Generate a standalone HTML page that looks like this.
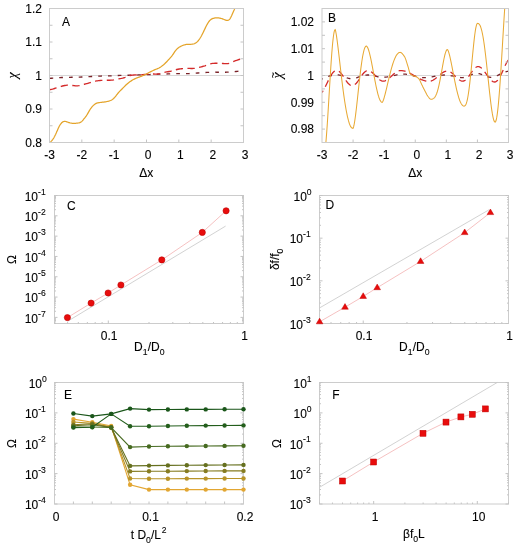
<!DOCTYPE html>
<html><head><meta charset="utf-8"><style>
html,body{margin:0;padding:0;background:#fff;width:517px;height:550px;overflow:hidden}
svg{display:block;filter:blur(0.3px)}
text{font-family:"Liberation Sans", sans-serif;fill:#000;stroke:#000;stroke-width:0.1px}
</style></head><body>
<svg width="517" height="550" viewBox="0 0 517 550">
<rect width="517" height="550" fill="#fff"/>
<line x1="49.5" y1="75.50" x2="243.5" y2="75.50" stroke="#d8d8d8" stroke-width="1"/>
<clipPath id="cA"><rect x="49.5" y="8.5" width="194.0" height="134.0"/></clipPath>
<g clip-path="url(#cA)">
<path d="M49.50,78.40 L51.25,78.22 L53.00,78.06 L54.75,77.92 L56.50,77.80 L58.25,77.69 L60.00,77.60 L61.67,77.53 L63.33,77.47 L65.00,77.41 L66.67,77.37 L68.33,77.33 L70.00,77.30 L71.67,77.27 L73.33,77.25 L75.00,77.22 L76.67,77.19 L78.33,77.15 L80.00,77.10 L81.67,77.04 L83.33,76.97 L85.00,76.89 L86.67,76.80 L88.33,76.70 L90.00,76.60 L91.50,76.50 L93.00,76.41 L94.50,76.32 L96.00,76.23 L97.50,76.16 L99.00,76.10 L100.83,76.05 L102.67,76.02 L104.50,76.00 L106.33,75.98 L108.17,75.95 L110.00,75.90 L111.67,75.83 L113.33,75.75 L115.00,75.66 L116.67,75.56 L118.33,75.47 L120.00,75.40 L121.67,75.34 L123.33,75.31 L125.00,75.28 L126.67,75.25 L128.33,75.23 L130.00,75.20 L131.67,75.16 L133.33,75.11 L135.00,75.06 L136.67,75.01 L138.33,74.95 L140.00,74.90 L141.08,74.87 L142.17,74.84 L143.25,74.81 L144.33,74.78 L145.42,74.74 L146.50,74.70 L147.92,74.64 L149.33,74.57 L150.75,74.50 L152.17,74.43 L153.58,74.36 L155.00,74.30 L156.83,74.24 L158.67,74.19 L160.50,74.14 L162.33,74.10 L164.17,74.05 L166.00,74.00 L168.00,73.93 L170.00,73.84 L172.00,73.76 L174.00,73.69 L176.00,73.63 L178.00,73.60 L179.67,73.60 L181.33,73.61 L183.00,73.63 L184.67,73.64 L186.33,73.63 L188.00,73.60 L189.33,73.55 L190.67,73.48 L192.00,73.40 L193.33,73.30 L194.67,73.20 L196.00,73.10 L197.83,72.96 L199.67,72.83 L201.50,72.71 L203.33,72.59 L205.17,72.49 L207.00,72.40 L208.67,72.33 L210.33,72.28 L212.00,72.24 L213.67,72.21 L215.33,72.20 L217.00,72.20 L218.67,72.21 L220.33,72.23 L222.00,72.25 L223.67,72.26 L225.33,72.24 L227.00,72.20 L228.50,72.13 L230.00,72.04 L231.50,71.92 L233.00,71.79 L234.50,71.65 L236.00,71.50 L237.25,71.37 L238.50,71.25 L239.75,71.12 L241.00,71.01 L242.25,70.90 L243.50,70.80" stroke="#7a2228" stroke-width="1.35" fill="none" stroke-dasharray="3.7 6.057"/>
<path d="M49.50,89.70 L50.50,89.53 L51.50,89.32 L52.50,89.08 L53.50,88.80 L54.50,88.51 L55.50,88.20 L56.27,87.95 L57.03,87.70 L57.80,87.45 L58.57,87.20 L59.33,86.95 L60.10,86.70 L61.27,86.34 L62.43,86.01 L63.60,85.72 L64.77,85.48 L65.93,85.31 L67.10,85.20 L67.85,85.17 L68.60,85.18 L69.35,85.21 L70.10,85.26 L70.85,85.32 L71.60,85.40 L72.78,85.53 L73.97,85.66 L75.15,85.76 L76.33,85.82 L77.52,85.80 L78.70,85.70 L79.45,85.58 L80.20,85.42 L80.95,85.24 L81.70,85.03 L82.45,84.82 L83.20,84.60 L84.38,84.26 L85.57,83.93 L86.75,83.61 L87.93,83.28 L89.12,82.95 L90.30,82.60 L91.05,82.37 L91.80,82.14 L92.55,81.92 L93.30,81.70 L94.05,81.49 L94.80,81.30 L95.67,81.11 L96.53,80.94 L97.40,80.80 L98.27,80.68 L99.13,80.58 L100.00,80.50 L101.00,80.43 L102.00,80.38 L103.00,80.34 L104.00,80.32 L105.00,80.31 L106.00,80.30 L107.27,80.29 L108.53,80.28 L109.80,80.24 L111.07,80.18 L112.33,80.07 L113.60,79.90 L114.27,79.79 L114.93,79.66 L115.60,79.52 L116.27,79.38 L116.93,79.24 L117.60,79.10 L118.87,78.85 L120.13,78.61 L121.40,78.36 L122.67,78.07 L123.93,77.73 L125.20,77.30 L125.78,77.07 L126.37,76.83 L126.95,76.59 L127.53,76.34 L128.12,76.11 L128.70,75.90 L129.95,75.53 L131.20,75.27 L132.45,75.09 L133.70,74.99 L134.95,74.93 L136.20,74.90 L136.88,74.89 L137.57,74.88 L138.25,74.87 L138.93,74.85 L139.62,74.83 L140.30,74.80 L141.63,74.71 L142.97,74.60 L144.30,74.46 L145.63,74.33 L146.97,74.20 L148.30,74.10 L149.00,74.06 L149.70,74.03 L150.40,74.01 L151.10,73.99 L151.80,73.99 L152.50,74.00 L153.77,74.03 L155.03,74.07 L156.30,74.08 L157.57,74.04 L158.83,73.93 L160.10,73.70 L160.77,73.53 L161.43,73.34 L162.10,73.13 L162.77,72.91 L163.43,72.70 L164.10,72.50 L165.37,72.19 L166.63,71.94 L167.90,71.73 L169.17,71.52 L170.43,71.29 L171.70,71.00 L172.37,70.82 L173.03,70.62 L173.70,70.41 L174.37,70.20 L175.03,70.00 L175.70,69.80 L176.87,69.50 L178.03,69.24 L179.20,69.03 L180.37,68.85 L181.53,68.71 L182.70,68.60 L183.47,68.54 L184.23,68.49 L185.00,68.45 L185.77,68.42 L186.53,68.40 L187.30,68.40 L188.55,68.42 L189.80,68.45 L191.05,68.48 L192.30,68.48 L193.55,68.43 L194.80,68.30 L195.50,68.19 L196.20,68.06 L196.90,67.91 L197.60,67.74 L198.30,67.57 L199.00,67.40 L200.18,67.11 L201.37,66.82 L202.55,66.51 L203.73,66.18 L204.92,65.82 L206.10,65.40 L206.77,65.14 L207.43,64.87 L208.10,64.61 L208.77,64.35 L209.43,64.11 L210.10,63.90 L211.35,63.60 L212.60,63.42 L213.85,63.32 L215.10,63.28 L216.35,63.28 L217.60,63.30 L218.28,63.31 L218.97,63.31 L219.65,63.32 L220.33,63.34 L221.02,63.36 L221.70,63.40 L222.95,63.50 L224.20,63.61 L225.45,63.68 L226.70,63.68 L227.95,63.57 L229.20,63.30 L229.87,63.08 L230.53,62.82 L231.20,62.53 L231.87,62.22 L232.53,61.90 L233.20,61.60 L234.38,61.11 L235.57,60.67 L236.75,60.27 L237.93,59.88 L239.12,59.50 L240.30,59.10 L240.83,58.91 L241.37,58.71 L241.90,58.50 L242.43,58.28 L242.97,58.05 L243.50,57.80" stroke="#d42a2a" stroke-width="1.35" fill="none" stroke-dasharray="7.3 4.42"/>
<path d="M49.60,142.80 L50.10,142.38 L50.60,141.92 L51.10,141.41 L51.60,140.86 L52.10,140.26 L52.60,139.60 L53.12,138.86 L53.63,138.07 L54.15,137.20 L54.67,136.27 L55.18,135.27 L55.70,134.20 L56.22,133.06 L56.73,131.87 L57.25,130.66 L57.77,129.46 L58.28,128.30 L58.80,127.20 L59.25,126.32 L59.70,125.51 L60.15,124.77 L60.60,124.11 L61.05,123.52 L61.50,123.00 L61.95,122.56 L62.40,122.19 L62.85,121.89 L63.30,121.66 L63.75,121.50 L64.20,121.40 L64.72,121.37 L65.23,121.41 L65.75,121.50 L66.27,121.64 L66.78,121.81 L67.30,122.00 L67.82,122.19 L68.33,122.38 L68.85,122.56 L69.37,122.72 L69.88,122.87 L70.40,123.00 L71.05,123.12 L71.70,123.21 L72.35,123.27 L73.00,123.30 L73.65,123.31 L74.30,123.30 L74.95,123.28 L75.60,123.26 L76.25,123.22 L76.90,123.16 L77.55,123.09 L78.20,123.00 L78.72,122.91 L79.23,122.80 L79.75,122.64 L80.27,122.43 L80.78,122.16 L81.30,121.80 L81.82,121.35 L82.33,120.83 L82.85,120.24 L83.37,119.62 L83.88,118.96 L84.40,118.30 L84.78,117.81 L85.17,117.32 L85.55,116.82 L85.93,116.30 L86.32,115.77 L86.70,115.20 L87.27,114.30 L87.83,113.35 L88.40,112.37 L88.97,111.38 L89.53,110.42 L90.10,109.50 L90.62,108.72 L91.13,108.00 L91.65,107.32 L92.17,106.70 L92.68,106.13 L93.20,105.60 L93.70,105.13 L94.20,104.70 L94.70,104.31 L95.20,103.96 L95.70,103.66 L96.20,103.40 L96.85,103.13 L97.50,102.93 L98.15,102.78 L98.80,102.66 L99.45,102.58 L100.10,102.50 L100.88,102.41 L101.67,102.32 L102.45,102.22 L103.23,102.12 L104.02,102.01 L104.80,101.90 L105.57,101.78 L106.33,101.65 L107.10,101.50 L107.87,101.32 L108.63,101.13 L109.40,100.90 L109.92,100.73 L110.43,100.53 L110.95,100.31 L111.47,100.05 L111.98,99.75 L112.50,99.40 L113.02,99.00 L113.53,98.54 L114.05,98.04 L114.57,97.50 L115.08,96.92 L115.60,96.30 L116.12,95.66 L116.63,94.99 L117.15,94.33 L117.67,93.66 L118.18,93.02 L118.70,92.40 L119.17,91.87 L119.63,91.37 L120.10,90.89 L120.57,90.42 L121.03,89.96 L121.50,89.50 L122.28,88.71 L123.07,87.91 L123.85,87.11 L124.63,86.32 L125.42,85.55 L126.20,84.80 L127.10,83.98 L128.00,83.21 L128.90,82.49 L129.80,81.81 L130.70,81.18 L131.60,80.60 L132.50,80.06 L133.40,79.56 L134.30,79.10 L135.20,78.67 L136.10,78.27 L137.00,77.90 L138.03,77.50 L139.07,77.11 L140.10,76.72 L141.13,76.34 L142.17,75.93 L143.20,75.50 L144.10,75.09 L145.00,74.66 L145.90,74.22 L146.80,73.75 L147.70,73.28 L148.60,72.80 L149.50,72.32 L150.40,71.85 L151.30,71.39 L152.20,70.94 L153.10,70.51 L154.00,70.10 L155.00,69.68 L156.00,69.27 L157.00,68.86 L158.00,68.42 L159.00,67.94 L160.00,67.40 L160.65,67.00 L161.30,66.57 L161.95,66.11 L162.60,65.60 L163.25,65.07 L163.90,64.50 L164.67,63.79 L165.43,63.03 L166.20,62.25 L166.97,61.45 L167.73,60.63 L168.50,59.80 L169.15,59.10 L169.80,58.39 L170.45,57.65 L171.10,56.88 L171.75,56.07 L172.40,55.20 L173.03,54.29 L173.67,53.35 L174.30,52.40 L174.93,51.47 L175.57,50.60 L176.20,49.80 L176.85,49.09 L177.50,48.47 L178.15,47.94 L178.80,47.48 L179.45,47.07 L180.10,46.70 L180.75,46.35 L181.40,46.03 L182.05,45.73 L182.70,45.46 L183.35,45.21 L184.00,45.00 L184.77,44.79 L185.53,44.62 L186.30,44.49 L187.07,44.40 L187.83,44.33 L188.60,44.30 L189.38,44.29 L190.17,44.29 L190.95,44.28 L191.73,44.24 L192.52,44.15 L193.30,44.00 L193.98,43.80 L194.67,43.52 L195.35,43.17 L196.03,42.74 L196.72,42.22 L197.40,41.60 L198.02,40.96 L198.63,40.23 L199.25,39.42 L199.87,38.53 L200.48,37.55 L201.10,36.50 L201.62,35.56 L202.13,34.56 L202.65,33.53 L203.17,32.47 L203.68,31.39 L204.20,30.30 L204.72,29.21 L205.23,28.13 L205.75,27.06 L206.27,26.03 L206.78,25.04 L207.30,24.10 L207.82,23.22 L208.33,22.41 L208.85,21.66 L209.37,21.00 L209.88,20.41 L210.40,19.90 L210.92,19.48 L211.43,19.13 L211.95,18.85 L212.47,18.63 L212.98,18.45 L213.50,18.30 L214.27,18.12 L215.03,17.99 L215.80,17.91 L216.57,17.86 L217.33,17.86 L218.10,17.90 L218.75,17.96 L219.40,18.05 L220.05,18.17 L220.70,18.32 L221.35,18.49 L222.00,18.70 L222.52,18.88 L223.03,19.08 L223.55,19.29 L224.07,19.49 L224.58,19.70 L225.10,19.90 L225.48,20.04 L225.87,20.16 L226.25,20.27 L226.63,20.35 L227.02,20.39 L227.40,20.40 L227.78,20.36 L228.17,20.26 L228.55,20.10 L228.93,19.85 L229.32,19.53 L229.70,19.10 L230.08,18.57 L230.47,17.95 L230.85,17.25 L231.23,16.48 L231.62,15.66 L232.00,14.80 L232.33,14.03 L232.67,13.25 L233.00,12.47 L233.33,11.70 L233.67,10.94 L234.00,10.20 L234.13,9.91 L234.27,9.62 L234.40,9.33 L234.53,9.01 L234.67,8.67 L234.80,8.30 L234.93,7.89 L235.07,7.43 L235.20,6.92 L235.33,6.35 L235.47,5.71 L235.60,5.00" stroke="#e4a42a" stroke-width="1.25" fill="none"/>
</g>
<rect x="49.5" y="8.5" width="194.0" height="134.0" fill="none" stroke="#cccccc" stroke-width="1"/>
<path d="M49.5,125.75h3M243.5,125.75h-3M49.5,109.00h3M243.5,109.00h-3M49.5,92.25h3M243.5,92.25h-3M49.5,75.50h3M243.5,75.50h-3M49.5,58.75h3M243.5,58.75h-3M49.5,42.00h3M243.5,42.00h-3M49.5,25.25h3M243.5,25.25h-3" stroke="#c4c4c4" stroke-width="1" fill="none"/>
<path d="M81.83,142.5v-3M114.17,142.5v-3M146.50,142.5v-3M178.83,142.5v-3M211.17,142.5v-3" stroke="#c4c4c4" stroke-width="1" fill="none"/>
<text x="42" y="12.8" text-anchor="end" font-size="12" >1.2</text>
<text x="42" y="46.299999999999955" text-anchor="end" font-size="12" >1.1</text>
<text x="42" y="79.79999999999998" text-anchor="end" font-size="12" >1</text>
<text x="42" y="113.29999999999997" text-anchor="end" font-size="12" >0.9</text>
<text x="42" y="146.79999999999998" text-anchor="end" font-size="12" >0.8</text>
<text x="49.5" y="158.6" text-anchor="middle" font-size="12" >-3</text>
<text x="81.83333333333333" y="158.6" text-anchor="middle" font-size="12" >-2</text>
<text x="114.16666666666666" y="158.6" text-anchor="middle" font-size="12" >-1</text>
<text x="148.1" y="158.6" text-anchor="middle" font-size="12" >0</text>
<text x="180.4333333333333" y="158.6" text-anchor="middle" font-size="12" >1</text>
<text x="212.76666666666668" y="158.6" text-anchor="middle" font-size="12" >2</text>
<text x="245.1" y="158.6" text-anchor="middle" font-size="12" >3</text>
<text x="146.3" y="177" text-anchor="middle" font-size="12" >Δx</text>
<text x="62" y="25.5" text-anchor="start" font-size="12" >A</text>
<text transform="translate(17,75.5) rotate(-90)" text-anchor="middle" font-size="14" font-family="Liberation Serif" font-style="italic" style="font-family:Liberation Serif">χ</text>
<line x1="322.0" y1="75.50" x2="508.5" y2="75.50" stroke="#d8d8d8" stroke-width="1"/>
<clipPath id="cB"><rect x="322.0" y="8.5" width="186.5" height="134.0"/></clipPath>
<g clip-path="url(#cB)">
<path d="M310.00,82.00 L311.42,81.95 L312.84,81.80 L314.26,81.57 L315.68,81.24 L317.11,80.84 L318.53,80.37 L319.95,79.85 L321.37,79.28 L322.79,78.70 L324.21,78.10 L325.63,77.52 L327.05,76.95 L328.47,76.43 L329.89,75.96 L331.32,75.56 L332.74,75.23 L334.16,75.00 L335.58,74.85 L337.00,74.80 L337.74,74.83 L338.47,74.90 L339.21,75.03 L339.95,75.20 L340.68,75.41 L341.42,75.66 L342.16,75.94 L342.89,76.23 L343.63,76.54 L344.37,76.86 L345.11,77.17 L345.84,77.46 L346.58,77.74 L347.32,77.99 L348.05,78.20 L348.79,78.37 L349.53,78.50 L350.26,78.57 L351.00,78.60 L351.89,78.58 L352.79,78.50 L353.68,78.38 L354.58,78.22 L355.47,78.02 L356.37,77.78 L357.26,77.52 L358.16,77.24 L359.05,76.95 L359.95,76.65 L360.84,76.36 L361.74,76.08 L362.63,75.82 L363.53,75.58 L364.42,75.38 L365.32,75.22 L366.21,75.10 L367.11,75.02 L368.00,75.00 L368.77,75.02 L369.54,75.06 L370.31,75.14 L371.07,75.24 L371.84,75.37 L372.61,75.52 L373.38,75.69 L374.15,75.87 L374.92,76.06 L375.68,76.24 L376.45,76.43 L377.22,76.61 L377.99,76.78 L378.76,76.93 L379.53,77.06 L380.29,77.16 L381.06,77.24 L381.83,77.28 L382.60,77.30 L383.70,77.28 L384.80,77.21 L385.90,77.11 L387.00,76.96 L388.10,76.78 L389.20,76.58 L390.30,76.34 L391.40,76.09 L392.50,75.83 L393.60,75.57 L394.70,75.31 L395.80,75.06 L396.90,74.82 L398.00,74.62 L399.10,74.44 L400.20,74.29 L401.30,74.19 L402.40,74.12 L403.50,74.10 L404.61,74.12 L405.71,74.20 L406.82,74.32 L407.92,74.48 L409.03,74.68 L410.13,74.92 L411.24,75.18 L412.34,75.46 L413.45,75.75 L414.55,76.05 L415.66,76.34 L416.76,76.62 L417.87,76.88 L418.97,77.12 L420.08,77.32 L421.18,77.48 L422.29,77.60 L423.39,77.68 L424.50,77.70 L425.58,77.68 L426.66,77.63 L427.74,77.54 L428.82,77.42 L429.89,77.26 L430.97,77.09 L432.05,76.89 L433.13,76.68 L434.21,76.46 L435.29,76.24 L436.37,76.02 L437.45,75.81 L438.53,75.61 L439.61,75.44 L440.68,75.28 L441.76,75.16 L442.84,75.07 L443.92,75.02 L445.00,75.00 L445.92,75.02 L446.84,75.07 L447.76,75.16 L448.68,75.27 L449.61,75.42 L450.53,75.59 L451.45,75.78 L452.37,75.98 L453.29,76.19 L454.21,76.41 L455.13,76.62 L456.05,76.82 L456.97,77.01 L457.89,77.18 L458.82,77.33 L459.74,77.44 L460.66,77.53 L461.58,77.58 L462.50,77.60 L463.26,77.57 L464.03,77.49 L464.79,77.35 L465.55,77.16 L466.32,76.92 L467.08,76.65 L467.84,76.34 L468.61,76.02 L469.37,75.67 L470.13,75.33 L470.89,74.98 L471.66,74.66 L472.42,74.35 L473.18,74.08 L473.95,73.84 L474.71,73.65 L475.47,73.51 L476.24,73.43 L477.00,73.40 L477.74,73.43 L478.47,73.51 L479.21,73.64 L479.95,73.81 L480.68,74.03 L481.42,74.28 L482.16,74.57 L482.89,74.87 L483.63,75.19 L484.37,75.51 L485.11,75.83 L485.84,76.13 L486.58,76.42 L487.32,76.67 L488.05,76.89 L488.79,77.06 L489.53,77.19 L490.26,77.27 L491.00,77.30 L491.91,77.26 L492.82,77.14 L493.73,76.94 L494.64,76.68 L495.55,76.35 L496.46,75.96 L497.37,75.54 L498.28,75.07 L499.19,74.59 L500.11,74.11 L501.02,73.63 L501.93,73.16 L502.84,72.74 L503.75,72.35 L504.66,72.02 L505.57,71.76 L506.48,71.56 L507.39,71.44 L508.30,71.40" stroke="#7a2228" stroke-width="1.3" fill="none" stroke-dasharray="3.8 5.8"/>
<path d="M318.00,95.00 L318.97,94.83 L319.95,94.33 L320.92,93.52 L321.89,92.41 L322.87,91.03 L323.84,89.43 L324.82,87.64 L325.79,85.72 L326.76,83.72 L327.74,81.68 L328.71,79.68 L329.68,77.76 L330.66,75.97 L331.63,74.37 L332.61,72.99 L333.58,71.88 L334.55,71.07 L335.53,70.57 L336.50,70.40 L337.33,70.50 L338.15,70.81 L338.98,71.32 L339.81,72.01 L340.63,72.87 L341.46,73.87 L342.28,74.98 L343.11,76.17 L343.94,77.42 L344.76,78.68 L345.59,79.93 L346.42,81.12 L347.24,82.23 L348.07,83.23 L348.89,84.09 L349.72,84.78 L350.55,85.29 L351.37,85.60 L352.20,85.70 L353.02,85.60 L353.84,85.29 L354.66,84.79 L355.48,84.11 L356.31,83.26 L357.13,82.28 L357.95,81.18 L358.77,80.00 L359.59,78.77 L360.41,77.53 L361.23,76.30 L362.05,75.12 L362.87,74.02 L363.69,73.04 L364.52,72.19 L365.34,71.51 L366.16,71.01 L366.98,70.70 L367.80,70.60 L368.61,70.67 L369.42,70.88 L370.23,71.23 L371.04,71.71 L371.85,72.29 L372.66,72.98 L373.47,73.74 L374.28,74.56 L375.09,75.42 L375.91,76.28 L376.72,77.14 L377.53,77.96 L378.34,78.72 L379.15,79.41 L379.96,79.99 L380.77,80.47 L381.58,80.82 L382.39,81.03 L383.20,81.10 L384.11,81.03 L385.01,80.82 L385.92,80.47 L386.82,79.99 L387.73,79.41 L388.63,78.72 L389.54,77.96 L390.44,77.14 L391.35,76.28 L392.25,75.42 L393.16,74.56 L394.06,73.74 L394.97,72.98 L395.87,72.29 L396.78,71.71 L397.68,71.23 L398.59,70.88 L399.49,70.67 L400.40,70.60 L401.91,70.67 L403.41,70.89 L404.92,71.24 L406.42,71.73 L407.93,72.33 L409.43,73.02 L410.94,73.80 L412.44,74.64 L413.95,75.51 L415.45,76.39 L416.96,77.26 L418.46,78.10 L419.97,78.88 L421.47,79.57 L422.98,80.17 L424.48,80.66 L425.99,81.01 L427.49,81.23 L429.00,81.30 L429.97,81.23 L430.94,81.02 L431.91,80.69 L432.87,80.22 L433.84,79.65 L434.81,78.99 L435.78,78.25 L436.75,77.45 L437.72,76.62 L438.68,75.78 L439.65,74.95 L440.62,74.15 L441.59,73.41 L442.56,72.75 L443.53,72.18 L444.49,71.71 L445.46,71.38 L446.43,71.17 L447.40,71.10 L448.21,71.17 L449.02,71.37 L449.83,71.70 L450.64,72.15 L451.45,72.71 L452.26,73.37 L453.07,74.09 L453.88,74.87 L454.69,75.69 L455.51,76.51 L456.32,77.33 L457.13,78.11 L457.94,78.83 L458.75,79.49 L459.56,80.05 L460.37,80.50 L461.18,80.83 L461.99,81.03 L462.80,81.10 L463.61,81.00 L464.41,80.71 L465.22,80.23 L466.02,79.57 L466.83,78.76 L467.63,77.82 L468.44,76.76 L469.24,75.63 L470.05,74.45 L470.85,73.25 L471.66,72.07 L472.46,70.94 L473.27,69.88 L474.07,68.94 L474.88,68.13 L475.68,67.47 L476.49,66.99 L477.29,66.70 L478.10,66.60 L478.97,66.71 L479.85,67.02 L480.72,67.53 L481.59,68.22 L482.47,69.08 L483.34,70.09 L484.22,71.21 L485.09,72.41 L485.96,73.66 L486.84,74.94 L487.71,76.19 L488.58,77.39 L489.46,78.51 L490.33,79.52 L491.21,80.38 L492.08,81.07 L492.95,81.58 L493.83,81.89 L494.70,82.00 L495.59,81.83 L496.49,81.34 L497.38,80.54 L498.28,79.45 L499.17,78.10 L500.07,76.52 L500.96,74.76 L501.86,72.87 L502.75,70.90 L503.65,68.90 L504.54,66.93 L505.44,65.04 L506.33,63.28 L507.23,61.70 L508.12,60.35 L509.02,59.26 L509.91,58.46 L510.81,57.97 L511.70,57.80" stroke="#d42a2a" stroke-width="1.3" fill="none" stroke-dasharray="7 4.5"/>
<path d="M323.10,158.60 L323.41,158.39 L323.72,157.76 L324.03,156.73 L324.34,155.28 L324.65,153.44 L324.96,151.21 L325.27,148.61 L325.58,145.66 L325.89,142.38 L326.20,138.78 L326.51,134.89 L326.82,130.74 L327.13,126.35 L327.44,121.75 L327.75,116.97 L328.06,112.05 L328.37,107.00 L328.68,101.87 L328.99,96.70 L329.31,91.50 L329.62,86.33 L329.93,81.20 L330.24,76.15 L330.55,71.23 L330.86,66.45 L331.17,61.85 L331.48,57.46 L331.79,53.31 L332.10,49.42 L332.41,45.82 L332.72,42.54 L333.03,39.59 L333.34,36.99 L333.65,34.76 L333.96,32.92 L334.27,31.47 L334.58,30.44 L334.89,29.81 L335.20,29.60 L335.65,31.10 L336.11,33.50 L336.56,36.37 L337.02,39.58 L337.47,43.03 L337.92,46.66 L338.38,50.41 L338.83,54.26 L339.28,58.17 L339.74,62.10 L340.19,66.03 L340.65,69.94 L341.10,73.81 L341.55,77.62 L342.01,81.36 L342.46,85.01 L342.92,88.56 L343.37,91.99 L343.82,95.31 L344.28,98.49 L344.73,101.53 L345.18,104.43 L345.64,107.17 L346.09,109.76 L346.55,112.18 L347.00,114.45 L347.45,116.54 L347.91,118.46 L348.36,120.22 L348.82,121.80 L349.27,123.21 L349.72,124.44 L350.18,125.51 L350.63,126.40 L351.08,127.13 L351.54,127.69 L351.99,128.09 L352.45,128.32 L352.90,128.40 L353.24,127.92 L353.59,126.90 L353.93,125.49 L354.27,123.75 L354.62,121.74 L354.96,119.49 L355.31,117.03 L355.65,114.40 L355.99,111.61 L356.34,108.71 L356.68,105.70 L357.02,102.61 L357.37,99.47 L357.71,96.29 L358.05,93.09 L358.40,89.90 L358.74,86.72 L359.08,83.58 L359.43,80.49 L359.77,77.46 L360.12,74.52 L360.46,71.67 L360.80,68.93 L361.15,66.31 L361.49,63.81 L361.83,61.45 L362.18,59.24 L362.52,57.18 L362.86,55.28 L363.21,53.55 L363.55,52.00 L363.89,50.62 L364.24,49.42 L364.58,48.40 L364.93,47.57 L365.27,46.93 L365.61,46.47 L365.96,46.19 L366.30,46.10 L366.71,46.27 L367.12,46.70 L367.52,47.35 L367.93,48.21 L368.34,49.26 L368.75,50.48 L369.15,51.86 L369.56,53.38 L369.97,55.03 L370.38,56.80 L370.78,58.68 L371.19,60.64 L371.60,62.68 L372.01,64.79 L372.42,66.94 L372.82,69.12 L373.23,71.33 L373.64,73.54 L374.05,75.75 L374.45,77.94 L374.86,80.09 L375.27,82.20 L375.68,84.26 L376.08,86.25 L376.49,88.16 L376.90,89.98 L377.31,91.70 L377.72,93.32 L378.12,94.83 L378.53,96.21 L378.94,97.46 L379.35,98.58 L379.75,99.55 L380.16,100.39 L380.57,101.07 L380.98,101.61 L381.38,101.99 L381.79,102.22 L382.20,102.30 L382.66,101.73 L383.12,100.73 L383.58,99.48 L384.04,98.05 L384.49,96.47 L384.95,94.78 L385.41,93.00 L385.87,91.15 L386.33,89.26 L386.79,87.33 L387.25,85.38 L387.71,83.42 L388.17,81.47 L388.63,79.53 L389.08,77.61 L389.54,75.73 L390.00,73.89 L390.46,72.09 L390.92,70.35 L391.38,68.67 L391.84,67.05 L392.30,65.50 L392.76,64.03 L393.22,62.64 L393.67,61.32 L394.13,60.10 L394.59,58.96 L395.05,57.90 L395.51,56.94 L395.97,56.07 L396.43,55.29 L396.89,54.61 L397.35,54.02 L397.81,53.52 L398.26,53.11 L398.72,52.80 L399.18,52.58 L399.64,52.44 L400.10,52.40 L400.49,52.45 L400.88,52.58 L401.27,52.80 L401.65,53.08 L402.04,53.43 L402.43,53.84 L402.82,54.29 L403.21,54.79 L403.60,55.31 L403.99,55.86 L404.37,56.42 L404.76,57.04 L405.15,57.85 L405.54,58.83 L405.93,59.93 L406.32,61.13 L406.71,62.37 L407.09,63.62 L407.48,64.85 L407.87,66.03 L408.26,67.39 L408.65,68.86 L409.04,70.34 L409.43,71.72 L409.82,72.88 L410.20,73.73 L410.59,74.20 L410.98,74.55 L411.37,74.85 L411.76,75.10 L412.15,75.31 L412.54,75.50 L412.92,75.67 L413.31,75.82 L413.70,75.94 L414.09,76.04 L414.48,76.14 L414.87,76.23 L415.26,76.34 L415.64,76.46 L416.03,76.61 L416.42,76.81 L416.81,77.04 L417.20,77.31 L417.59,77.61 L417.98,77.95 L418.36,78.33 L418.75,78.74 L419.14,79.20 L419.53,79.81 L419.92,80.54 L420.31,81.35 L420.70,82.22 L421.08,83.10 L421.47,83.98 L421.86,84.82 L422.25,85.60 L422.64,86.39 L423.03,87.19 L423.42,87.98 L423.81,88.77 L424.19,89.55 L424.58,90.31 L424.97,91.06 L425.36,91.79 L425.75,92.53 L426.14,93.28 L426.53,94.01 L426.91,94.72 L427.30,95.39 L427.69,96.00 L428.08,96.55 L428.47,97.04 L428.86,97.55 L429.25,98.05 L429.63,98.50 L430.02,98.86 L430.41,99.11 L430.80,99.20 L431.23,99.20 L431.65,99.18 L432.08,99.13 L432.50,99.04 L432.93,98.89 L433.35,98.67 L433.78,98.38 L434.21,97.99 L434.63,97.50 L435.06,96.90 L435.48,96.18 L435.91,95.33 L436.33,94.35 L436.76,93.24 L437.18,91.98 L437.61,90.58 L438.04,89.04 L438.46,87.36 L438.89,85.55 L439.31,83.62 L439.74,81.57 L440.16,79.41 L440.59,77.18 L441.02,74.87 L441.44,72.51 L441.87,70.13 L442.29,67.75 L442.72,65.39 L443.14,63.08 L443.57,60.86 L443.99,58.75 L444.42,56.79 L444.85,55.00 L445.27,53.41 L445.70,52.06 L446.12,50.97 L446.55,50.16 L446.97,49.67 L447.40,49.50 L447.83,49.99 L448.25,50.93 L448.68,52.14 L449.10,53.58 L449.53,55.20 L449.95,56.96 L450.38,58.84 L450.81,60.82 L451.23,62.88 L451.66,64.99 L452.08,67.15 L452.51,69.34 L452.93,71.54 L453.36,73.74 L453.78,75.93 L454.21,78.10 L454.64,80.24 L455.06,82.33 L455.49,84.38 L455.91,86.36 L456.34,88.28 L456.76,90.12 L457.19,91.88 L457.62,93.56 L458.04,95.14 L458.47,96.63 L458.89,98.02 L459.32,99.30 L459.74,100.48 L460.17,101.55 L460.59,102.51 L461.02,103.36 L461.45,104.09 L461.87,104.71 L462.30,105.21 L462.72,105.60 L463.15,105.88 L463.57,106.05 L464.00,106.10 L464.35,106.07 L464.69,105.96 L465.04,105.72 L465.38,105.33 L465.73,104.77 L466.08,104.03 L466.42,103.10 L466.77,101.96 L467.12,100.60 L467.46,99.03 L467.81,97.24 L468.15,95.24 L468.50,93.02 L468.85,90.59 L469.19,87.96 L469.54,85.14 L469.88,82.15 L470.23,79.01 L470.58,75.72 L470.92,72.32 L471.27,68.83 L471.62,65.27 L471.96,61.66 L472.31,58.05 L472.65,54.46 L473.00,50.91 L473.35,47.45 L473.69,44.10 L474.04,40.90 L474.38,37.88 L474.73,35.06 L475.08,32.49 L475.42,30.19 L475.77,28.19 L476.12,26.50 L476.46,25.17 L476.81,24.19 L477.15,23.60 L477.50,23.40 L477.95,23.43 L478.40,23.56 L478.85,23.85 L479.31,24.30 L479.76,24.96 L480.21,25.83 L480.66,26.93 L481.11,28.28 L481.56,29.89 L482.01,31.75 L482.46,33.87 L482.92,36.25 L483.37,38.89 L483.82,41.77 L484.27,44.90 L484.72,48.25 L485.17,51.81 L485.62,55.56 L486.07,59.47 L486.53,63.53 L486.98,67.70 L487.43,71.96 L487.88,76.26 L488.33,80.58 L488.78,84.88 L489.23,89.12 L489.68,93.27 L490.14,97.28 L490.59,101.11 L491.04,104.73 L491.49,108.11 L491.94,111.19 L492.39,113.95 L492.84,116.35 L493.29,118.37 L493.75,119.98 L494.20,121.15 L494.65,121.86 L495.10,122.10 L495.49,121.84 L495.87,121.06 L496.26,119.76 L496.65,117.96 L497.04,115.67 L497.42,112.89 L497.81,109.65 L498.20,105.98 L498.58,101.88 L498.97,97.40 L499.36,92.55 L499.75,87.37 L500.13,81.90 L500.52,76.17 L500.91,70.21 L501.29,64.07 L501.68,57.78 L502.07,51.39 L502.46,44.94 L502.84,38.46 L503.23,32.01 L503.62,25.62 L504.01,19.33 L504.39,13.19 L504.78,7.23 L505.17,1.50 L505.55,-3.97 L505.94,-9.15 L506.33,-14.00 L506.72,-18.48 L507.10,-22.58 L507.49,-26.25 L507.88,-29.49 L508.26,-32.27 L508.65,-34.56 L509.04,-36.36 L509.43,-37.66 L509.81,-38.44 L510.20,-38.70" stroke="#e8a934" stroke-width="1.05" fill="none"/>
</g>
<rect x="322.0" y="8.5" width="186.5" height="134.0" fill="none" stroke="#cccccc" stroke-width="1"/>
<path d="M322.0,129.10h3M508.5,129.10h-3M322.0,115.70h3M508.5,115.70h-3M322.0,102.30h3M508.5,102.30h-3M322.0,88.90h3M508.5,88.90h-3M322.0,75.50h3M508.5,75.50h-3M322.0,62.10h3M508.5,62.10h-3M322.0,48.70h3M508.5,48.70h-3M322.0,35.30h3M508.5,35.30h-3M322.0,21.90h3M508.5,21.90h-3" stroke="#c4c4c4" stroke-width="1" fill="none"/>
<path d="M353.08,142.5v-3M384.17,142.5v-3M415.25,142.5v-3M446.33,142.5v-3M477.42,142.5v-3" stroke="#c4c4c4" stroke-width="1" fill="none"/>
<text x="314" y="26.199999999999715" text-anchor="end" font-size="12" >1.02</text>
<text x="314" y="52.99999999999974" text-anchor="end" font-size="12" >1.01</text>
<text x="314" y="79.79999999999976" text-anchor="end" font-size="12" >1</text>
<text x="314" y="106.59999999999978" text-anchor="end" font-size="12" >0.99</text>
<text x="314" y="133.3999999999998" text-anchor="end" font-size="12" >0.98</text>
<text x="322.0" y="158.6" text-anchor="middle" font-size="12" >-3</text>
<text x="353.0833333333333" y="158.6" text-anchor="middle" font-size="12" >-2</text>
<text x="384.1666666666667" y="158.6" text-anchor="middle" font-size="12" >-1</text>
<text x="416.85" y="158.6" text-anchor="middle" font-size="12" >0</text>
<text x="447.93333333333334" y="158.6" text-anchor="middle" font-size="12" >1</text>
<text x="479.0166666666667" y="158.6" text-anchor="middle" font-size="12" >2</text>
<text x="510.1" y="158.6" text-anchor="middle" font-size="12" >3</text>
<text x="415.3" y="177" text-anchor="middle" font-size="12" >Δx</text>
<text x="327.9" y="21.5" text-anchor="start" font-size="12" >B</text>
<text transform="translate(282.3,75.4) rotate(-90)" text-anchor="middle" font-size="14" font-style="italic" style="font-family:Liberation Serif">χ</text>
<text transform="translate(276.5,75.4) rotate(-90)" text-anchor="middle" font-size="10">~</text>
<rect x="54.5" y="195.5" width="189.0" height="128.0" fill="none" stroke="#cccccc" stroke-width="1"/>
<path d="M54.5,317.38h3M243.5,317.38h-3M54.5,297.07h3M243.5,297.07h-3M54.5,276.76h3M243.5,276.76h-3M54.5,256.44h3M243.5,256.44h-3M54.5,236.13h3M243.5,236.13h-3M54.5,215.81h3M243.5,215.81h-3M54.5,195.50h3M243.5,195.50h-3" stroke="#c4c4c4" stroke-width="1" fill="none"/>
<path d="M54.5,323.50h1.5M243.5,323.50h-1.5M54.5,321.89h1.5M243.5,321.89h-1.5M54.5,320.53h1.5M243.5,320.53h-1.5M54.5,319.35h1.5M243.5,319.35h-1.5M54.5,318.31h1.5M243.5,318.31h-1.5M54.5,311.27h1.5M243.5,311.27h-1.5M54.5,307.69h1.5M243.5,307.69h-1.5M54.5,305.15h1.5M243.5,305.15h-1.5M54.5,303.19h1.5M243.5,303.19h-1.5M54.5,301.58h1.5M243.5,301.58h-1.5M54.5,300.22h1.5M243.5,300.22h-1.5M54.5,299.04h1.5M243.5,299.04h-1.5M54.5,298.00h1.5M243.5,298.00h-1.5M54.5,290.96h1.5M243.5,290.96h-1.5M54.5,287.38h1.5M243.5,287.38h-1.5M54.5,284.84h1.5M243.5,284.84h-1.5M54.5,282.87h1.5M243.5,282.87h-1.5M54.5,281.26h1.5M243.5,281.26h-1.5M54.5,279.90h1.5M243.5,279.90h-1.5M54.5,278.73h1.5M243.5,278.73h-1.5M54.5,277.69h1.5M243.5,277.69h-1.5M54.5,270.64h1.5M243.5,270.64h-1.5M54.5,267.06h1.5M243.5,267.06h-1.5M54.5,264.53h1.5M243.5,264.53h-1.5M54.5,262.56h1.5M243.5,262.56h-1.5M54.5,260.95h1.5M243.5,260.95h-1.5M54.5,259.59h1.5M243.5,259.59h-1.5M54.5,258.41h1.5M243.5,258.41h-1.5M54.5,257.37h1.5M243.5,257.37h-1.5M54.5,250.33h1.5M243.5,250.33h-1.5M54.5,246.75h1.5M243.5,246.75h-1.5M54.5,244.21h1.5M243.5,244.21h-1.5M54.5,242.24h1.5M243.5,242.24h-1.5M54.5,240.63h1.5M243.5,240.63h-1.5M54.5,239.27h1.5M243.5,239.27h-1.5M54.5,238.10h1.5M243.5,238.10h-1.5M54.5,237.06h1.5M243.5,237.06h-1.5M54.5,230.01h1.5M243.5,230.01h-1.5M54.5,226.44h1.5M243.5,226.44h-1.5M54.5,223.90h1.5M243.5,223.90h-1.5M54.5,221.93h1.5M243.5,221.93h-1.5M54.5,220.32h1.5M243.5,220.32h-1.5M54.5,218.96h1.5M243.5,218.96h-1.5M54.5,217.78h1.5M243.5,217.78h-1.5M54.5,216.74h1.5M243.5,216.74h-1.5M54.5,209.70h1.5M243.5,209.70h-1.5M54.5,206.12h1.5M243.5,206.12h-1.5M54.5,203.58h1.5M243.5,203.58h-1.5M54.5,201.62h1.5M243.5,201.62h-1.5M54.5,200.01h1.5M243.5,200.01h-1.5M54.5,198.65h1.5M243.5,198.65h-1.5M54.5,197.47h1.5M243.5,197.47h-1.5M54.5,196.43h1.5M243.5,196.43h-1.5" stroke="#c4c4c4" stroke-width="1" fill="none"/>
<path d="M108.30,323.5v-3" stroke="#c4c4c4" stroke-width="1" fill="none"/>
<path d="M54.50,323.5v-1.5M67.60,323.5v-1.5M78.31,323.5v-1.5M87.36,323.5v-1.5M95.20,323.5v-1.5M102.11,323.5v-1.5M149.00,323.5v-1.5M172.81,323.5v-1.5M189.70,323.5v-1.5M202.80,323.5v-1.5M213.51,323.5v-1.5M222.56,323.5v-1.5M230.40,323.5v-1.5M237.31,323.5v-1.5" stroke="#c4c4c4" stroke-width="1" fill="none"/>
<line x1="67.9" y1="321.1" x2="225.6" y2="226.1" stroke="#c6c6c6" stroke-width="0.8"/>
<path d="M67.40,317.60 L91.10,303.10 L108.10,293.00 L120.90,285.00 L161.80,259.90 L202.30,232.40 L226.10,210.80" stroke="#f2acac" stroke-width="0.75" fill="none"/>
<circle cx="67.4" cy="317.6" r="3.1" fill="#e80c0c" stroke="#c00000" stroke-width="0.6"/>
<circle cx="91.1" cy="303.1" r="3.1" fill="#e80c0c" stroke="#c00000" stroke-width="0.6"/>
<circle cx="108.1" cy="293" r="3.1" fill="#e80c0c" stroke="#c00000" stroke-width="0.6"/>
<circle cx="120.9" cy="285" r="3.1" fill="#e80c0c" stroke="#c00000" stroke-width="0.6"/>
<circle cx="161.8" cy="259.9" r="3.1" fill="#e80c0c" stroke="#c00000" stroke-width="0.6"/>
<circle cx="202.3" cy="232.4" r="3.1" fill="#e80c0c" stroke="#c00000" stroke-width="0.6"/>
<circle cx="226.1" cy="210.8" r="3.1" fill="#e80c0c" stroke="#c00000" stroke-width="0.6"/>
<text x="45.70" y="200.80" text-anchor="end" font-size="12">10<tspan dy="-6.1" font-size="8.6">-1</tspan></text>
<text x="45.70" y="221.11" text-anchor="end" font-size="12">10<tspan dy="-6.1" font-size="8.6">-2</tspan></text>
<text x="45.70" y="241.43" text-anchor="end" font-size="12">10<tspan dy="-6.1" font-size="8.6">-3</tspan></text>
<text x="45.70" y="261.74" text-anchor="end" font-size="12">10<tspan dy="-6.1" font-size="8.6">-4</tspan></text>
<text x="45.70" y="282.06" text-anchor="end" font-size="12">10<tspan dy="-6.1" font-size="8.6">-5</tspan></text>
<text x="45.70" y="302.37" text-anchor="end" font-size="12">10<tspan dy="-6.1" font-size="8.6">-6</tspan></text>
<text x="45.70" y="322.68" text-anchor="end" font-size="12">10<tspan dy="-6.1" font-size="8.6">-7</tspan></text>
<text x="109.10106526206434" y="340" text-anchor="middle" font-size="12" >0.1</text>
<text x="244.5" y="340" text-anchor="middle" font-size="12" >1</text>
<text x="149.3" y="351" text-anchor="middle" font-size="12">D<tspan font-size="8.7" dy="4.0">1</tspan><tspan dy="-4.0">/D</tspan><tspan font-size="8.7" dy="4.0">0</tspan></text>
<text x="67" y="210" text-anchor="start" font-size="12" >C</text>
<text transform="translate(15.9,259.4) rotate(-90)" text-anchor="middle" font-size="12">Ω</text>
<rect x="319.5" y="195.5" width="189.0" height="128.0" fill="none" stroke="#cccccc" stroke-width="1"/>
<path d="M319.5,323.50h3M508.5,323.50h-3M319.5,280.83h3M508.5,280.83h-3M319.5,238.17h3M508.5,238.17h-3M319.5,195.50h3M508.5,195.50h-3" stroke="#c4c4c4" stroke-width="1" fill="none"/>
<path d="M319.5,310.66h1.5M508.5,310.66h-1.5M319.5,303.14h1.5M508.5,303.14h-1.5M319.5,297.81h1.5M508.5,297.81h-1.5M319.5,293.68h1.5M508.5,293.68h-1.5M319.5,290.30h1.5M508.5,290.30h-1.5M319.5,287.44h1.5M508.5,287.44h-1.5M319.5,284.97h1.5M508.5,284.97h-1.5M319.5,282.79h1.5M508.5,282.79h-1.5M319.5,267.99h1.5M508.5,267.99h-1.5M319.5,260.48h1.5M508.5,260.48h-1.5M319.5,255.15h1.5M508.5,255.15h-1.5M319.5,251.01h1.5M508.5,251.01h-1.5M319.5,247.63h1.5M508.5,247.63h-1.5M319.5,244.78h1.5M508.5,244.78h-1.5M319.5,242.30h1.5M508.5,242.30h-1.5M319.5,240.12h1.5M508.5,240.12h-1.5M319.5,225.32h1.5M508.5,225.32h-1.5M319.5,217.81h1.5M508.5,217.81h-1.5M319.5,212.48h1.5M508.5,212.48h-1.5M319.5,208.34h1.5M508.5,208.34h-1.5M319.5,204.97h1.5M508.5,204.97h-1.5M319.5,202.11h1.5M508.5,202.11h-1.5M319.5,199.63h1.5M508.5,199.63h-1.5M319.5,197.45h1.5M508.5,197.45h-1.5" stroke="#c4c4c4" stroke-width="1" fill="none"/>
<path d="M363.23,323.5v-3" stroke="#c4c4c4" stroke-width="1" fill="none"/>
<path d="M319.50,323.5v-1.5M331.00,323.5v-1.5M340.73,323.5v-1.5M349.15,323.5v-1.5M356.58,323.5v-1.5M406.96,323.5v-1.5M432.54,323.5v-1.5M450.69,323.5v-1.5M464.77,323.5v-1.5M476.27,323.5v-1.5M486.00,323.5v-1.5M494.42,323.5v-1.5M501.85,323.5v-1.5" stroke="#c4c4c4" stroke-width="1" fill="none"/>
<line x1="319.6" y1="307.9" x2="489" y2="209.8" stroke="#c6c6c6" stroke-width="0.8"/>
<path d="M319.60,321.80 L345.00,307.20 L363.20,296.40 L377.20,287.70 L420.60,261.40 L464.70,232.60 L490.40,212.60" stroke="#f2acac" stroke-width="0.75" fill="none"/>
<clipPath id="cD"><rect x="319.0" y="195.5" width="190.0" height="128.0"/></clipPath>
<g>
<path d="M319.6,318.2 L322.90000000000003,323.8 L316.3,323.8Z" fill="#e80c0c" stroke="#c00000" stroke-width="0.5" stroke-linejoin="round"/>
<path d="M345,303.6 L348.3,309.20000000000005 L341.7,309.20000000000005Z" fill="#e80c0c" stroke="#c00000" stroke-width="0.5" stroke-linejoin="round"/>
<path d="M363.2,292.8 L366.5,298.40000000000003 L359.9,298.40000000000003Z" fill="#e80c0c" stroke="#c00000" stroke-width="0.5" stroke-linejoin="round"/>
<path d="M377.2,284.1 L380.5,289.70000000000005 L373.9,289.70000000000005Z" fill="#e80c0c" stroke="#c00000" stroke-width="0.5" stroke-linejoin="round"/>
<path d="M420.6,257.8 L423.90000000000003,263.40000000000003 L417.3,263.40000000000003Z" fill="#e80c0c" stroke="#c00000" stroke-width="0.5" stroke-linejoin="round"/>
<path d="M464.7,229 L468.0,234.6 L461.4,234.6Z" fill="#e80c0c" stroke="#c00000" stroke-width="0.5" stroke-linejoin="round"/>
<path d="M490.4,209 L493.7,214.6 L487.09999999999997,214.6Z" fill="#e80c0c" stroke="#c00000" stroke-width="0.5" stroke-linejoin="round"/>
</g>
<text x="311.60" y="200.80" text-anchor="end" font-size="12">10<tspan dy="-6.1" font-size="8.6">0</tspan></text>
<text x="310.70" y="243.47" text-anchor="end" font-size="12">10<tspan dy="-6.1" font-size="8.6">-1</tspan></text>
<text x="310.70" y="286.13" text-anchor="end" font-size="12">10<tspan dy="-6.1" font-size="8.6">-2</tspan></text>
<text x="310.70" y="328.80" text-anchor="end" font-size="12">10<tspan dy="-6.1" font-size="8.6">-3</tspan></text>
<text x="364.0304822871945" y="340" text-anchor="middle" font-size="12" >0.1</text>
<text x="509.5" y="340" text-anchor="middle" font-size="12" >1</text>
<text x="414.3" y="351" text-anchor="middle" font-size="12">D<tspan font-size="8.7" dy="4.0">1</tspan><tspan dy="-4.0">/D</tspan><tspan font-size="8.7" dy="4.0">0</tspan></text>
<text x="325.5" y="208.8" text-anchor="start" font-size="12" >D</text>
<text transform="translate(278.6,259.3) rotate(-90)" text-anchor="middle" font-size="12">δf/f<tspan font-size="8.7" dy="4.0">0</tspan></text>
<rect x="54.5" y="382.5" width="189.0" height="121.5" fill="none" stroke="#cccccc" stroke-width="1"/>
<path d="M54.5,504.00h3M243.5,504.00h-3M54.5,473.62h3M243.5,473.62h-3M54.5,443.25h3M243.5,443.25h-3M54.5,412.88h3M243.5,412.88h-3M54.5,382.50h3M243.5,382.50h-3" stroke="#c4c4c4" stroke-width="1" fill="none"/>
<path d="M54.5,494.86h1.5M243.5,494.86h-1.5M54.5,489.51h1.5M243.5,489.51h-1.5M54.5,485.71h1.5M243.5,485.71h-1.5M54.5,482.77h1.5M243.5,482.77h-1.5M54.5,480.36h1.5M243.5,480.36h-1.5M54.5,478.33h1.5M243.5,478.33h-1.5M54.5,476.57h1.5M243.5,476.57h-1.5M54.5,475.01h1.5M243.5,475.01h-1.5M54.5,464.48h1.5M243.5,464.48h-1.5M54.5,459.13h1.5M243.5,459.13h-1.5M54.5,455.34h1.5M243.5,455.34h-1.5M54.5,452.39h1.5M243.5,452.39h-1.5M54.5,449.99h1.5M243.5,449.99h-1.5M54.5,447.96h1.5M243.5,447.96h-1.5M54.5,446.19h1.5M243.5,446.19h-1.5M54.5,444.64h1.5M243.5,444.64h-1.5M54.5,434.11h1.5M243.5,434.11h-1.5M54.5,428.76h1.5M243.5,428.76h-1.5M54.5,424.96h1.5M243.5,424.96h-1.5M54.5,422.02h1.5M243.5,422.02h-1.5M54.5,419.61h1.5M243.5,419.61h-1.5M54.5,417.58h1.5M243.5,417.58h-1.5M54.5,415.82h1.5M243.5,415.82h-1.5M54.5,414.26h1.5M243.5,414.26h-1.5M54.5,403.73h1.5M243.5,403.73h-1.5M54.5,398.38h1.5M243.5,398.38h-1.5M54.5,394.59h1.5M243.5,394.59h-1.5M54.5,391.64h1.5M243.5,391.64h-1.5M54.5,389.24h1.5M243.5,389.24h-1.5M54.5,387.21h1.5M243.5,387.21h-1.5M54.5,385.44h1.5M243.5,385.44h-1.5M54.5,383.89h1.5M243.5,383.89h-1.5" stroke="#c4c4c4" stroke-width="1" fill="none"/>
<path d="M73.40,504v-2.5M92.30,504v-2.5M111.20,504v-2.5M130.10,504v-2.5M149.00,504v-2.5M167.90,504v-2.5M186.80,504v-2.5M205.70,504v-2.5M224.60,504v-2.5" stroke="#c4c4c4" stroke-width="1" fill="none"/>
<clipPath id="cE"><rect x="54.5" y="382.5" width="193.0" height="121.5"/></clipPath>
<path d="M73.40,419.10 L92.30,422.30 L111.20,426.00 L130.10,484.80 L149.00,489.60 L167.90,489.60 L186.80,489.60 L205.70,489.60 L224.60,489.60 L243.50,489.60" stroke="#e2a632" stroke-width="1.1" fill="none"/>
<circle cx="73.40" cy="419.1" r="2.2" fill="#e2a632"/>
<circle cx="92.30" cy="422.3" r="2.2" fill="#e2a632"/>
<circle cx="111.20" cy="426" r="2.2" fill="#e2a632"/>
<circle cx="130.10" cy="484.8" r="2.2" fill="#e2a632"/>
<circle cx="149.00" cy="489.6" r="2.2" fill="#e2a632"/>
<circle cx="167.90" cy="489.6" r="2.2" fill="#e2a632"/>
<circle cx="186.80" cy="489.6" r="2.2" fill="#e2a632"/>
<circle cx="205.70" cy="489.6" r="2.2" fill="#e2a632"/>
<circle cx="224.60" cy="489.6" r="2.2" fill="#e2a632"/>
<circle cx="243.50" cy="489.6" r="2.2" fill="#e2a632"/>
<path d="M73.40,422.00 L92.30,423.40 L111.20,427.00 L130.10,478.50 L149.00,478.80 L167.90,478.70 L186.80,478.60 L205.70,478.60 L224.60,478.50 L243.50,478.50" stroke="#b89428" stroke-width="1.1" fill="none"/>
<circle cx="73.40" cy="422" r="2.2" fill="#b89428"/>
<circle cx="92.30" cy="423.4" r="2.2" fill="#b89428"/>
<circle cx="111.20" cy="427" r="2.2" fill="#b89428"/>
<circle cx="130.10" cy="478.5" r="2.2" fill="#b89428"/>
<circle cx="149.00" cy="478.8" r="2.2" fill="#b89428"/>
<circle cx="167.90" cy="478.7" r="2.2" fill="#b89428"/>
<circle cx="186.80" cy="478.6" r="2.2" fill="#b89428"/>
<circle cx="205.70" cy="478.6" r="2.2" fill="#b89428"/>
<circle cx="224.60" cy="478.5" r="2.2" fill="#b89428"/>
<circle cx="243.50" cy="478.5" r="2.2" fill="#b89428"/>
<path d="M73.40,424.80 L92.30,423.80 L111.20,427.50 L130.10,471.40 L149.00,471.30 L167.90,471.20 L186.80,471.10 L205.70,471.00 L224.60,470.90 L243.50,470.90" stroke="#867c22" stroke-width="1.1" fill="none"/>
<circle cx="73.40" cy="424.8" r="2.2" fill="#867c22"/>
<circle cx="92.30" cy="423.8" r="2.2" fill="#867c22"/>
<circle cx="111.20" cy="427.5" r="2.2" fill="#867c22"/>
<circle cx="130.10" cy="471.4" r="2.2" fill="#867c22"/>
<circle cx="149.00" cy="471.3" r="2.2" fill="#867c22"/>
<circle cx="167.90" cy="471.2" r="2.2" fill="#867c22"/>
<circle cx="186.80" cy="471.1" r="2.2" fill="#867c22"/>
<circle cx="205.70" cy="471.0" r="2.2" fill="#867c22"/>
<circle cx="224.60" cy="470.9" r="2.2" fill="#867c22"/>
<circle cx="243.50" cy="470.9" r="2.2" fill="#867c22"/>
<path d="M73.40,425.80 L92.30,424.80 L111.20,427.50 L130.10,465.90 L149.00,465.60 L167.90,465.40 L186.80,465.20 L205.70,465.10 L224.60,465.00 L243.50,464.90" stroke="#66701f" stroke-width="1.1" fill="none"/>
<circle cx="73.40" cy="425.8" r="2.2" fill="#66701f"/>
<circle cx="92.30" cy="424.8" r="2.2" fill="#66701f"/>
<circle cx="111.20" cy="427.5" r="2.2" fill="#66701f"/>
<circle cx="130.10" cy="465.9" r="2.2" fill="#66701f"/>
<circle cx="149.00" cy="465.6" r="2.2" fill="#66701f"/>
<circle cx="167.90" cy="465.4" r="2.2" fill="#66701f"/>
<circle cx="186.80" cy="465.2" r="2.2" fill="#66701f"/>
<circle cx="205.70" cy="465.1" r="2.2" fill="#66701f"/>
<circle cx="224.60" cy="465.0" r="2.2" fill="#66701f"/>
<circle cx="243.50" cy="464.9" r="2.2" fill="#66701f"/>
<path d="M73.40,427.00 L92.30,427.00 L111.20,427.50 L130.10,447.10 L149.00,446.50 L167.90,446.30 L186.80,446.10 L205.70,446.00 L224.60,445.90 L243.50,445.80" stroke="#466a20" stroke-width="1.1" fill="none"/>
<circle cx="73.40" cy="427" r="2.2" fill="#466a20"/>
<circle cx="92.30" cy="427" r="2.2" fill="#466a20"/>
<circle cx="111.20" cy="427.5" r="2.2" fill="#466a20"/>
<circle cx="130.10" cy="447.1" r="2.2" fill="#466a20"/>
<circle cx="149.00" cy="446.5" r="2.2" fill="#466a20"/>
<circle cx="167.90" cy="446.3" r="2.2" fill="#466a20"/>
<circle cx="186.80" cy="446.1" r="2.2" fill="#466a20"/>
<circle cx="205.70" cy="446.0" r="2.2" fill="#466a20"/>
<circle cx="224.60" cy="445.9" r="2.2" fill="#466a20"/>
<circle cx="243.50" cy="445.8" r="2.2" fill="#466a20"/>
<path d="M73.40,427.60 L92.30,427.20 L111.20,413.90 L130.10,426.30 L149.00,426.20 L167.90,426.00 L186.80,425.80 L205.70,425.60 L224.60,425.50 L243.50,425.40" stroke="#235e1c" stroke-width="1.1" fill="none"/>
<circle cx="73.40" cy="427.6" r="2.2" fill="#235e1c"/>
<circle cx="92.30" cy="427.2" r="2.2" fill="#235e1c"/>
<circle cx="111.20" cy="413.9" r="2.2" fill="#235e1c"/>
<circle cx="130.10" cy="426.3" r="2.2" fill="#235e1c"/>
<circle cx="149.00" cy="426.2" r="2.2" fill="#235e1c"/>
<circle cx="167.90" cy="426.0" r="2.2" fill="#235e1c"/>
<circle cx="186.80" cy="425.8" r="2.2" fill="#235e1c"/>
<circle cx="205.70" cy="425.6" r="2.2" fill="#235e1c"/>
<circle cx="224.60" cy="425.5" r="2.2" fill="#235e1c"/>
<circle cx="243.50" cy="425.4" r="2.2" fill="#235e1c"/>
<path d="M73.40,413.50 L92.30,416.10 L111.20,413.90 L130.10,408.60 L149.00,409.60 L167.90,409.50 L186.80,409.40 L205.70,409.40 L224.60,409.30 L243.50,409.30" stroke="#1a561a" stroke-width="1.1" fill="none"/>
<circle cx="73.40" cy="413.5" r="2.2" fill="#1a561a"/>
<circle cx="92.30" cy="416.1" r="2.2" fill="#1a561a"/>
<circle cx="111.20" cy="413.9" r="2.2" fill="#1a561a"/>
<circle cx="130.10" cy="408.6" r="2.2" fill="#1a561a"/>
<circle cx="149.00" cy="409.6" r="2.2" fill="#1a561a"/>
<circle cx="167.90" cy="409.5" r="2.2" fill="#1a561a"/>
<circle cx="186.80" cy="409.4" r="2.2" fill="#1a561a"/>
<circle cx="205.70" cy="409.4" r="2.2" fill="#1a561a"/>
<circle cx="224.60" cy="409.3" r="2.2" fill="#1a561a"/>
<circle cx="243.50" cy="409.3" r="2.2" fill="#1a561a"/>
<text x="46.80" y="387.80" text-anchor="end" font-size="12">10<tspan dy="-6.1" font-size="8.6">0</tspan></text>
<text x="45.90" y="418.18" text-anchor="end" font-size="12">10<tspan dy="-6.1" font-size="8.6">-1</tspan></text>
<text x="45.90" y="448.55" text-anchor="end" font-size="12">10<tspan dy="-6.1" font-size="8.6">-2</tspan></text>
<text x="45.90" y="478.93" text-anchor="end" font-size="12">10<tspan dy="-6.1" font-size="8.6">-3</tspan></text>
<text x="45.90" y="509.30" text-anchor="end" font-size="12">10<tspan dy="-6.1" font-size="8.6">-4</tspan></text>
<text x="56.0" y="520.5" text-anchor="middle" font-size="12" >0</text>
<text x="150.5" y="520.5" text-anchor="middle" font-size="12" >0.1</text>
<text x="245.0" y="520.5" text-anchor="middle" font-size="12" >0.2</text>
<text x="148.6" y="539" text-anchor="middle" font-size="12">t D<tspan font-size="8.7" dy="4.0">0</tspan><tspan dy="-4.0">/L</tspan><tspan font-size="8.5" dy="-6.0" dx="0.8">2</tspan></text>
<text x="64" y="399" text-anchor="start" font-size="12" >E</text>
<text transform="translate(15.6,443.5) rotate(-90)" text-anchor="middle" font-size="12">Ω</text>
<rect x="319.5" y="382.5" width="189.0" height="121.5" fill="none" stroke="#cccccc" stroke-width="1"/>
<path d="M319.5,504.00h3M508.5,504.00h-3M319.5,473.62h3M508.5,473.62h-3M319.5,443.25h3M508.5,443.25h-3M319.5,412.88h3M508.5,412.88h-3M319.5,382.50h3M508.5,382.50h-3" stroke="#c4c4c4" stroke-width="1" fill="none"/>
<path d="M319.5,494.86h1.5M508.5,494.86h-1.5M319.5,489.51h1.5M508.5,489.51h-1.5M319.5,485.71h1.5M508.5,485.71h-1.5M319.5,482.77h1.5M508.5,482.77h-1.5M319.5,480.36h1.5M508.5,480.36h-1.5M319.5,478.33h1.5M508.5,478.33h-1.5M319.5,476.57h1.5M508.5,476.57h-1.5M319.5,475.01h1.5M508.5,475.01h-1.5M319.5,464.48h1.5M508.5,464.48h-1.5M319.5,459.13h1.5M508.5,459.13h-1.5M319.5,455.34h1.5M508.5,455.34h-1.5M319.5,452.39h1.5M508.5,452.39h-1.5M319.5,449.99h1.5M508.5,449.99h-1.5M319.5,447.96h1.5M508.5,447.96h-1.5M319.5,446.19h1.5M508.5,446.19h-1.5M319.5,444.64h1.5M508.5,444.64h-1.5M319.5,434.11h1.5M508.5,434.11h-1.5M319.5,428.76h1.5M508.5,428.76h-1.5M319.5,424.96h1.5M508.5,424.96h-1.5M319.5,422.02h1.5M508.5,422.02h-1.5M319.5,419.61h1.5M508.5,419.61h-1.5M319.5,417.58h1.5M508.5,417.58h-1.5M319.5,415.82h1.5M508.5,415.82h-1.5M319.5,414.26h1.5M508.5,414.26h-1.5M319.5,403.73h1.5M508.5,403.73h-1.5M319.5,398.38h1.5M508.5,398.38h-1.5M319.5,394.59h1.5M508.5,394.59h-1.5M319.5,391.64h1.5M508.5,391.64h-1.5M319.5,389.24h1.5M508.5,389.24h-1.5M319.5,387.21h1.5M508.5,387.21h-1.5M319.5,385.44h1.5M508.5,385.44h-1.5M319.5,383.89h1.5M508.5,383.89h-1.5" stroke="#c4c4c4" stroke-width="1" fill="none"/>
<path d="M373.68,504v-3M477.31,504v-3" stroke="#c4c4c4" stroke-width="1" fill="none"/>
<path d="M319.50,504v-1.5M332.45,504v-1.5M342.49,504v-1.5M350.69,504v-1.5M357.63,504v-1.5M363.64,504v-1.5M368.94,504v-1.5M404.88,504v-1.5M423.12,504v-1.5M436.07,504v-1.5M446.11,504v-1.5M454.32,504v-1.5M461.25,504v-1.5M467.26,504v-1.5M472.56,504v-1.5M508.50,504v-1.5" stroke="#c4c4c4" stroke-width="1" fill="none"/>
<clipPath id="cF"><rect x="319.5" y="382.5" width="189.0" height="121.5"/></clipPath>
<line x1="319.5" y1="487.3" x2="497.2" y2="382.5" stroke="#c6c6c6" stroke-width="0.8"/>
<path d="M342.50,481.00 L373.60,462.00 L423.00,433.30 L446.00,422.10 L460.90,416.90 L472.30,414.30 L485.40,408.90" stroke="#f2acac" stroke-width="0.75" fill="none"/>
<rect x="339.50" y="478.00" width="6" height="6" fill="#e80c0c" stroke="#c00000" stroke-width="0.5"/>
<rect x="370.60" y="459.00" width="6" height="6" fill="#e80c0c" stroke="#c00000" stroke-width="0.5"/>
<rect x="420.00" y="430.30" width="6" height="6" fill="#e80c0c" stroke="#c00000" stroke-width="0.5"/>
<rect x="443.00" y="419.10" width="6" height="6" fill="#e80c0c" stroke="#c00000" stroke-width="0.5"/>
<rect x="457.90" y="413.90" width="6" height="6" fill="#e80c0c" stroke="#c00000" stroke-width="0.5"/>
<rect x="469.30" y="411.30" width="6" height="6" fill="#e80c0c" stroke="#c00000" stroke-width="0.5"/>
<rect x="482.40" y="405.90" width="6" height="6" fill="#e80c0c" stroke="#c00000" stroke-width="0.5"/>
<text x="311.60" y="387.80" text-anchor="end" font-size="12">10<tspan dy="-6.1" font-size="8.6">1</tspan></text>
<text x="311.60" y="418.18" text-anchor="end" font-size="12">10<tspan dy="-6.1" font-size="8.6">0</tspan></text>
<text x="310.70" y="448.55" text-anchor="end" font-size="12">10<tspan dy="-6.1" font-size="8.6">-1</tspan></text>
<text x="310.70" y="478.93" text-anchor="end" font-size="12">10<tspan dy="-6.1" font-size="8.6">-2</tspan></text>
<text x="310.70" y="509.30" text-anchor="end" font-size="12">10<tspan dy="-6.1" font-size="8.6">-3</tspan></text>
<text x="375.08258087124364" y="520.5" text-anchor="middle" font-size="12" >1</text>
<text x="478.70618645917796" y="520.5" text-anchor="middle" font-size="12" >10</text>
<text x="413.9" y="537.8" text-anchor="middle" font-size="12">βf<tspan font-size="8.7" dy="4.0">0</tspan><tspan dy="-4.0">L</tspan></text>
<text x="332.2" y="398.7" text-anchor="start" font-size="12" >F</text>
<text transform="translate(280.8,443.5) rotate(-90)" text-anchor="middle" font-size="12">Ω</text>
</svg>
</body></html>
